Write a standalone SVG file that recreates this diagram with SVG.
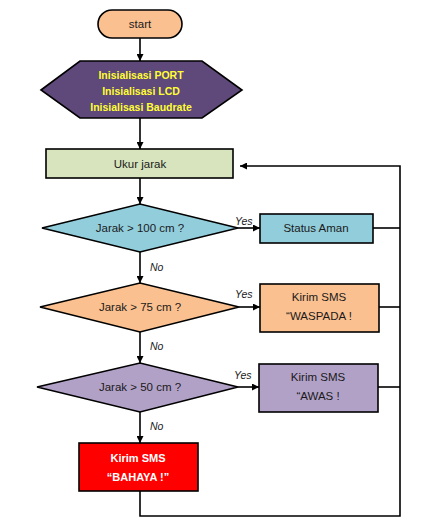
<svg xmlns="http://www.w3.org/2000/svg" width="421" height="523" viewBox="0 0 421 523">
<defs>
<marker id="ah" viewBox="0 0 10 10" refX="10" refY="5" markerWidth="7" markerHeight="7" markerUnits="userSpaceOnUse" orient="auto"><path d="M0,0 L10,5 L0,10 z" fill="#000"/></marker>
<style>
.s{stroke:#000;stroke-width:1.6}
text{font-family:"Liberation Sans",Arial,sans-serif;font-size:11.5px;fill:#1a1a1a;text-anchor:middle}
.y{fill:#ffff33;font-weight:bold;font-size:10.5px}
.w{fill:#fff;font-weight:bold;font-size:11px}
.l{font-style:italic;font-size:10.5px;text-anchor:start}
.c{fill:none;stroke:#000;stroke-width:1.6}
</style>
</defs>
<rect width="421" height="523" fill="#fff"/>
<g id="connectors">
<line class="c" x1="140" y1="38" x2="140" y2="61" marker-end="url(#ah)"/>
<line class="c" x1="140" y1="118" x2="140" y2="149" marker-end="url(#ah)"/>
<line class="c" x1="140" y1="178" x2="140" y2="204" marker-end="url(#ah)"/>
<line class="c" x1="140" y1="252" x2="140" y2="283" marker-end="url(#ah)"/>
<line class="c" x1="140" y1="332" x2="140" y2="363" marker-end="url(#ah)"/>
<line class="c" x1="140" y1="412" x2="140" y2="443" marker-end="url(#ah)"/>
<line class="c" x1="238" y1="228" x2="260" y2="228" marker-end="url(#ah)"/>
<line class="c" x1="239" y1="307" x2="260" y2="307" marker-end="url(#ah)"/>
<line class="c" x1="238" y1="387" x2="259" y2="387" marker-end="url(#ah)"/>
<line class="c" x1="373" y1="228" x2="400" y2="228"/>
<line class="c" x1="379" y1="307" x2="400" y2="307"/>
<line class="c" x1="378" y1="387" x2="400" y2="387"/>
<polyline class="c" points="140,491 140,516 400,516 400,166 240,166" marker-end="url(#ah)"/>
<text class="l" x="235" y="225">Yes</text>
<text class="l" x="235" y="298">Yes</text>
<text class="l" x="234" y="379">Yes</text>
<text class="l" x="150" y="271">No</text>
<text class="l" x="150" y="350">No</text>
<text class="l" x="150" y="430">No</text>
</g>
<g id="start">
<rect class="s" x="98" y="10" width="84" height="28" rx="14" fill="#fac090"/>
<text x="140" y="28">start</text>
</g>
<g id="init">
<polygon class="s" points="41,90 80,61 202,61 242,90 202,118 80,118" fill="#5f497a"/>
<text class="y" x="141" y="79">Inisialisasi PORT</text>
<text class="y" x="141" y="95">Inisialisasi LCD</text>
<text class="y" x="141" y="111">Inisialisasi Baudrate</text>
</g>
<g id="ukur">
<rect class="s" x="46" y="149" width="187" height="29" fill="#d7e4bd"/>
<text x="140" y="168">Ukur jarak</text>
</g>
<g id="d100">
<polygon class="s" points="42,228 140,204 238,228 140,252" fill="#92cddc"/>
<text x="140" y="232">Jarak &gt; 100 cm ?</text>
</g>
<g id="aman">
<rect class="s" x="260" y="214" width="113" height="29" fill="#92cddc"/>
<text x="316" y="232">Status Aman</text>
</g>
<g id="d75">
<polygon class="s" points="40,307 140,283 239,307 140,332" fill="#fac090"/>
<text x="140" y="311">Jarak &gt; 75 cm ?</text>
</g>
<g id="waspada">
<rect class="s" x="260" y="284" width="119" height="48" fill="#fac090"/>
<text x="319" y="301">Kirim SMS</text>
<text x="319" y="320">“WASPADA !</text>
</g>
<g id="d50">
<polygon class="s" points="37,387 140,363 238,387 140,412" fill="#b2a1c7"/>
<text x="140" y="391">Jarak &gt; 50 cm ?</text>
</g>
<g id="awas">
<rect class="s" x="259" y="364" width="119" height="48" fill="#b2a1c7"/>
<text x="318" y="381">Kirim SMS</text>
<text x="318" y="400">“AWAS !</text>
</g>
<g id="bahaya">
<rect class="s" x="79" y="443" width="119" height="48" fill="#ff0000"/>
<text class="w" x="138" y="462">Kirim SMS</text>
<text class="w" x="138" y="481">“BAHAYA !”</text>
</g>
</svg>
